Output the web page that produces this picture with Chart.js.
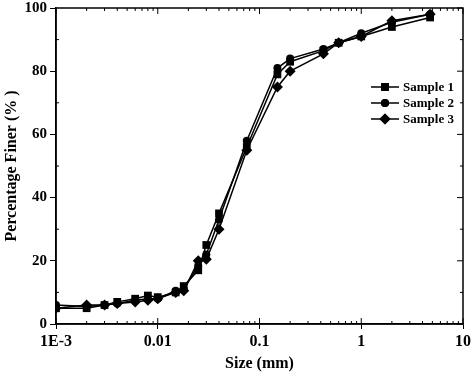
<!DOCTYPE html>
<html>
<head>
<meta charset="utf-8">
<script src="https://cdn.jsdelivr.net/npm/chart.js@4"></script>
<style>
  html, body { margin: 0; padding: 0; background: #fff; }
  #wrap { width: 474px; height: 374px; }
</style>
</head>
<body>
<div id="wrap"><canvas id="chart"></canvas></div>
<script>
// particle size (mm) and percentage finer for each sample
const sizes = [0.001, 0.002, 0.003, 0.004, 0.006, 0.008, 0.01, 0.015, 0.018, 0.025, 0.03, 0.04, 0.075, 0.15, 0.2, 0.425, 0.6, 1, 2, 4.75];
const sample1 = [5, 5, 6, 7, 8, 9, 8.5, 10, 12, 17, 25, 35, 56, 79, 83, 86.5, 89, 91, 94, 97];
const sample2 = [6, 5.5, 6, 6.5, 7.5, 8, 8, 10.5, 11, 18.5, 22, 33, 58, 81, 84, 87, 89, 92, 95.5, 98];
const sample3 = [5, 6, 6, 6.5, 7, 7.5, 8, 10, 10.5, 20, 20.5, 30, 55, 75, 80, 85.5, 89, 91, 96, 98];
const seriesNames = ["Sample 1", "Sample 2", "Sample 3"];
const xTickLabels = { "-3": "1E-3", "-2": "0.01", "-1": "0.1", "0": "1", "1": "10" };

const FONT = "'Liberation Serif', 'Times New Roman', serif";

const isDecade = (v) => Math.abs(Math.log10(v) - Math.round(Math.log10(v))) < 1e-9;

const toPoints = (ys) => sizes.map((s, i) => ({ x: s, y: ys[i] }));

const styles = [
  { pointStyle: "rect", pointRadius: 5.5 },
  { pointStyle: "circle", pointRadius: 4 },
  { pointStyle: "rectRot", pointRadius: 5.5 },
];

const datasets = [sample1, sample2, sample3].map((ys, i) => ({
  label: seriesNames[i],
  data: toPoints(ys),
  borderColor: "#000",
  backgroundColor: "#000",
  borderWidth: 1.5,
  pointStyle: styles[i].pointStyle,
  pointRadius: styles[i].pointRadius,
  pointBorderWidth: 0,
  tension: 0,
}));

// box frame, inward ticks and the legend
const frameAndLegend = {
  id: "frameAndLegend",
  afterDraw(chart) {
    const { ctx, chartArea: a, scales } = chart;
    const xs = scales.x, ys = scales.y;
    ctx.save();
    ctx.strokeStyle = "#000";
    ctx.lineWidth = 1.5;
    ctx.strokeRect(a.left, a.top, a.right - a.left, a.bottom - a.top);

    ctx.lineWidth = 1;
    ctx.beginPath();
    for (let d = -3; d <= 1; d++) {
      for (let k = 1; k <= 9; k++) {
        if (d === 1 && k > 1) break;
        const px = xs.getPixelForValue(k * Math.pow(10, d));
        const len = k === 1 ? 6 : 3;
        ctx.moveTo(px, a.bottom); ctx.lineTo(px, a.bottom - len);
        ctx.moveTo(px, a.top); ctx.lineTo(px, a.top + len);
      }
    }
    for (let v = 0; v <= 100; v += 10) {
      const py = ys.getPixelForValue(v);
      const major = v % 20 === 0;
      const len = major ? 6 : 3;
      if (!major) { ctx.moveTo(a.left, py); ctx.lineTo(a.left + len, py); }
      ctx.moveTo(a.right, py); ctx.lineTo(a.right - len, py);
    }
    ctx.stroke();

    // legend
    const lx = a.right - 92, ly = a.top + 79, step = 16;
    ctx.font = "bold 13px " + FONT;
    ctx.textBaseline = "middle";
    ctx.fillStyle = "#000";
    chart.data.datasets.forEach((ds, i) => {
      const y = ly + i * step;
      ctx.lineWidth = 1.5;
      ctx.beginPath();
      ctx.moveTo(lx, y); ctx.lineTo(lx + 28, y);
      ctx.stroke();
      Chart.helpers.drawPoint(ctx, {
        pointStyle: ds.pointStyle, radius: ds.pointRadius, rotation: 0, borderWidth: 0,
      }, lx + 14, y);
      ctx.fill();
      ctx.fillText(ds.label, lx + 32, y + 1);
    });
    ctx.restore();
  },
};

new Chart(document.getElementById("chart").getContext("2d"), {
  type: "line",
  data: { datasets: datasets },
  options: {
    responsive: true,
    maintainAspectRatio: false,
    animation: false,
    layout: { padding: { top: 0, right: 10, left: 0, bottom: 0 } },
    plugins: { legend: { display: false }, tooltip: { enabled: false } },
    scales: {
      x: {
        type: "logarithmic",
        position: "bottom",
        min: 0.001,
        max: 10,
        border: { color: "#000", width: 1.5 },
        grid: {
          drawOnChartArea: false,
          tickLength: 5,
          lineWidth: 1,
          color: (c) => (c.tick && isDecade(c.tick.value) ? "#000" : "rgba(0,0,0,0)"),
        },
        ticks: {
          autoSkip: false,
          maxRotation: 0,
          padding: 3,
          color: "#000",
          font: { family: FONT, size: 16, weight: "bold" },
          callback: (v) => (isDecade(v) ? xTickLabels[String(Math.round(Math.log10(v)))] : ""),
        },
        title: {
          display: true,
          text: "Size (mm)",
          color: "#000",
          font: { family: FONT, size: 16, weight: "bold" },
          padding: { top: 0, bottom: 1 },
        },
        afterFit: (s) => { s.height = 50; },
      },
      y: {
        min: 0,
        max: 100,
        border: { color: "#000", width: 1.5 },
        grid: { drawOnChartArea: false, tickLength: 6, color: "#000", lineWidth: 1 },
        ticks: {
          stepSize: 20,
          padding: 3,
          color: "#000",
          font: { family: FONT, size: 15, weight: "bold" },
        },
        title: {
          display: true,
          text: "Percentage Finer (% )",
          color: "#000",
          font: { family: FONT, size: 16, weight: "bold" },
          padding: { top: 2, bottom: 0 },
        },
        afterFit: (s) => { s.width = 56; s.paddingTop = 8; },
      },
    },
  },
  plugins: [frameAndLegend],
});
</script>
</body>
</html>
